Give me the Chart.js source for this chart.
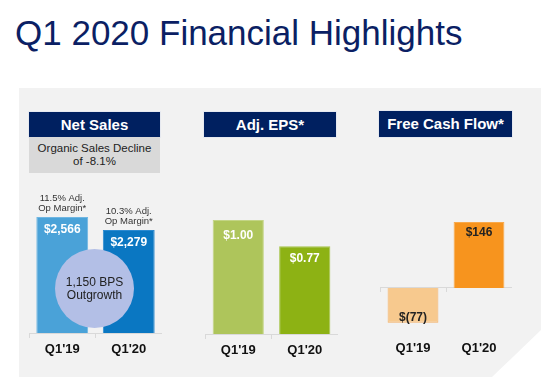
<!DOCTYPE html>
<html>
<head>
<meta charset="utf-8">
<script src="https://cdn.jsdelivr.net/npm/chart.js@4.4.1/dist/chart.umd.min.js"></script>
<style>
  html, body { margin: 0; padding: 0; background: #ffffff; }
  body { width: 554px; height: 383px; position: relative; overflow: hidden; font-family: Arial, "Liberation Sans", sans-serif; }
  #title { position: absolute; left: 15px; top: 15px; font-size: 35px; line-height: 35px; color: #0b1f64; white-space: nowrap; }
  #panel { position: absolute; left: 19px; top: 88px; width: 522px; height: 289px; background: #f2f2f2;
           clip-path: polygon(0 0, 100% 0, 100% 242px, 473px 100%, 0 100%); }
  .hdr { position: absolute; height: 25px; background: #002060; color: #fff; font-weight: bold; font-size: 15px;
         line-height: 25px; text-align: center; white-space: nowrap; box-shadow: 0 0 0 1px #e6e9f0; }
  #sub { position: absolute; left: 29px; top: 137px; width: 131px; height: 36px; background: #d9d9d9; color: #222;
         font-size: 11.5px; line-height: 13px; text-align: center; padding-top: 5px; box-sizing: border-box; }
  .cv { position: absolute; }
  #circle { position: absolute; left: 55px; top: 249px; width: 79px; height: 79px; border-radius: 50%; background: #b3bfe6;
            color: #222; font-size: 12px; line-height: 13px; text-align: center; box-sizing: border-box; padding-top: 27px; }
</style>
</head>
<body>
<div id="title">Q1 2020 Financial Highlights</div>
<div id="panel"></div>
<div class="hdr" style="left:29px; top:112px; width:131px;">Net Sales</div>
<div id="sub">Organic Sales Decline<br>of -8.1%</div>
<div class="hdr" style="left:204px; top:112px; width:132px;">Adj. EPS*</div>
<div class="hdr" style="left:379px; top:111px; width:133px; height:26px;">Free Cash Flow*</div>

<div class="cv" style="left:29px; top:150px; width:133px; height:213px;"><canvas id="c1"></canvas></div>
<div class="cv" style="left:205px; top:150px; width:133px; height:214px;"><canvas id="c2"></canvas></div>
<div class="cv" style="left:380px; top:150px; width:132px; height:210px;"><canvas id="c3"></canvas></div>
<div id="circle">1,150 BPS<br>Outgrowth</div>

<script>
const categories = ["Q1'19", "Q1'20"];
const netSales = [2566, 2279];
const netSalesLabels = ["$2,566", "$2,279"];
const marginLabels = [["11.5% Adj.", "Op Margin*"], ["10.3% Adj.", "Op Margin*"]];
const adjEps = [1.00, 0.77];
const epsLabels = ["$1.00", "$0.77"];
const freeCashFlow = [-77, 146];
const fcfLabels = ["$(77)", "$146"];

const FONT = "Arial, 'Liberation Sans', sans-serif";

function labelPlugin(texts, color, offsets, extra) {
  return {
    id: 'vals',
    afterDatasetsDraw(chart) {
      const ctx = chart.ctx;
      const meta = chart.getDatasetMeta(0);
      ctx.save();
      ctx.font = "bold 12px " + FONT;
      ctx.fillStyle = color;
      ctx.textAlign = 'center';
      ctx.textBaseline = 'middle';
      meta.data.forEach((bar, i) => {
        const v = chart.data.datasets[0].data[i];
        const y = v >= 0 ? bar.y + offsets[i] : bar.y - offsets[i];
        ctx.fillText(texts[i], bar.x, y);
      });
      if (extra) extra(chart, meta, ctx);
      ctx.restore();
    }
  };
}

function makeChart(id, data, colors, borders, min, max, pct, plugin, labelPad, zeroAxis) {
  const scales = {
    x: {
      position: 'bottom',
      offset: true,
      grid: { display: !zeroAxis, drawOnChartArea: false, offset: true, tickLength: 5, color: '#d9d9d9' },
      border: { display: !zeroAxis, color: '#d9d9d9' },
      ticks: { color: '#111', font: { family: FONT, size: 13, weight: 'bold' }, padding: labelPad },
      afterFit(s) { s.height = 30; }
    },
    y: { display: false, min: min, max: max }
  };
  if (zeroAxis) {
    scales.xz = {
      type: 'category',
      labels: categories,
      position: { y: 0 },
      offset: true,
      grid: { display: true, drawOnChartArea: false, offset: true, tickLength: 4, color: '#d9d9d9' },
      border: { display: true, color: '#d9d9d9' },
      ticks: { display: false }
    };
  }
  return new Chart(document.getElementById(id), {
    type: 'bar',
    data: {
      labels: categories,
      datasets: [{
        data: data,
        backgroundColor: colors,
        borderColor: borders,
        borderWidth: 1,
        categoryPercentage: 1,
        barPercentage: pct
      }]
    },
    options: {
      responsive: true,
      maintainAspectRatio: false,
      animation: false,
      layout: { padding: 0 },
      plugins: { legend: { display: false }, tooltip: { enabled: false } },
      scales: scales
    },
    plugins: [plugin]
  });
}

makeChart('c1', netSales, ['#4aa2d8', '#0a77c2'], ['#6fb6e2', '#2b8ad0'], 0, 4050, 0.78,
  labelPlugin(netSalesLabels, '#ffffff', [13, 13], (chart, meta, ctx) => {
    ctx.font = "9.5px " + FONT;
    ctx.fillStyle = '#333';
    meta.data.forEach((bar, i) => {
      ctx.fillText(marginLabels[i][0], bar.x, bar.y - 19);
      ctx.fillText(marginLabels[i][1], bar.x, bar.y - 9);
    });
  }), 4, false);

makeChart('c2', adjEps, ['#aec55b', '#8db214'], ['#c3d585', '#a6c44a'], 0, 1.614, 0.77,
  labelPlugin(epsLabels, '#ffffff', [16, 12]), 4, false);

makeChart('c3', freeCashFlow, ['#f7c98e', '#f7941e'], ['#f4b066', '#f9a94a'], -93, 305, 0.77,
  labelPlugin(fcfLabels, '#222222', [5, 11]), 6, true);
</script>
</body>
</html>
